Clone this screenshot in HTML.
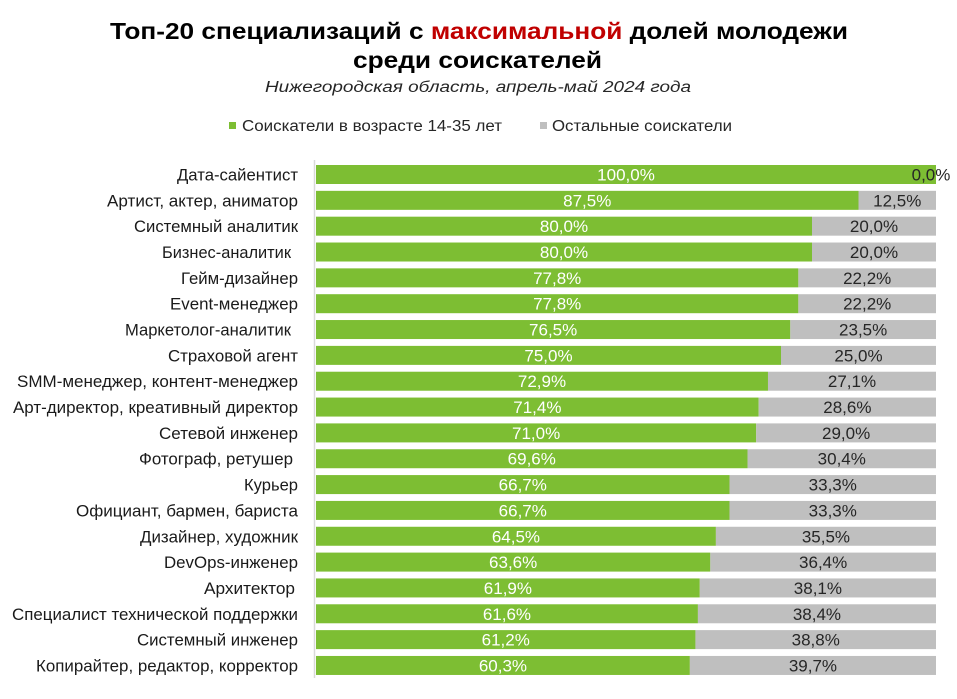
<!DOCTYPE html>
<html>
<head>
<meta charset="utf-8">
<style>
html,body{margin:0;padding:0;background:#fff;}
svg{display:block;}
text{font-family:"Liberation Sans",Arial,sans-serif;}
</style>
</head>
<body>
<svg width="957" height="699" viewBox="0 0 957 699" xmlns="http://www.w3.org/2000/svg">
<rect x="0" y="0" width="957" height="699" fill="#fff"/>
<!-- Title -->
<text x="110" y="39" font-size="23" font-weight="bold" fill="#000" textLength="738" lengthAdjust="spacingAndGlyphs">Топ-20 специализаций с <tspan fill="#C00000">максимальной</tspan> долей молодежи</text>
<text x="353" y="68" font-size="23" font-weight="bold" fill="#000" textLength="249" lengthAdjust="spacingAndGlyphs">среди соискателей</text>
<text x="265" y="92" font-size="15.5" font-style="italic" fill="#262626" textLength="426" lengthAdjust="spacingAndGlyphs">Нижегородская область, апрель-май 2024 года</text>
<!-- Legend -->
<rect x="229" y="122" width="7" height="7" fill="#7DBE33"/>
<text x="242" y="131" font-size="15.5" fill="#262626" textLength="260" lengthAdjust="spacingAndGlyphs">Соискатели в возрасте 14-35 лет</text>
<rect x="540" y="122" width="7" height="7" fill="#BFBFBF"/>
<text x="552" y="131" font-size="15.5" fill="#262626" textLength="180" lengthAdjust="spacingAndGlyphs">Остальные соискатели</text>
<!-- Axis line -->
<line x1="314.5" y1="160" x2="314.5" y2="678" stroke="#D9D9D9" stroke-width="1.5"/>
<g id="rows"></g>
</svg>
<script>
(function(){
var rows=[
["Дата-сайентист",100.0,177,298],
["Артист, актер, аниматор",87.5,107,298],
["Системный аналитик",80.0,134,298],
["Бизнес-аналитик",80.0,162,291],
["Гейм-дизайнер",77.8,181,298],
["Event-менеджер",77.8,170,298],
["Маркетолог-аналитик",76.5,125,291],
["Страховой агент",75.0,168,298],
["SMM-менеджер, контент-менеджер",72.9,17,298],
["Арт-директор, креативный директор",71.4,13,298],
["Сетевой инженер",71.0,159,298],
["Фотограф, ретушер",69.6,139,293],
["Курьер",66.7,244,298],
["Официант, бармен, бариста",66.7,76,298],
["Дизайнер, художник",64.5,140,298],
["DevOps-инженер",63.6,164,298],
["Архитектор",61.9,204,295],
["Специалист технической поддержки",61.6,12,298],
["Системный инженер",61.2,137,298],
["Копирайтер, редактор, корректор",60.3,36,298]
];
var NS="http://www.w3.org/2000/svg";
var g=document.getElementById("rows");
var x0=316,W=620,h=19;
function el(n,a,t){var e=document.createElementNS(NS,n);for(var k in a)e.setAttribute(k,a[k]);if(t!==undefined)e.textContent=t;g.appendChild(e);return e;}
function fmt(v){return v.toFixed(1).replace(".",",")+"%";}
rows.forEach(function(r,i){
  var top=165+i*25.84, cy=top+h/2, base=cy+6;
  var gw=r[1]/100*W, other=100-r[1];
  el("rect",{x:x0,y:top.toFixed(2),width:gw.toFixed(2),height:h,fill:"#7DBE33"});
  if(other>0) el("rect",{x:(x0+gw).toFixed(2),y:top.toFixed(2),width:(W-gw).toFixed(2),height:h,fill:"#BFBFBF"});
  el("text",{x:r[2],y:base.toFixed(2),"font-size":"16.8",fill:"#1a1a1a",textLength:(r[3]-r[2]),lengthAdjust:"spacingAndGlyphs"},r[0]);
  el("text",{x:(x0+gw/2).toFixed(2),y:base.toFixed(2),"font-size":"17",fill:"#fff","text-anchor":"middle"},fmt(r[1]));
  var gx = other>0 ? x0+gw+(W-gw)/2 : 931;
  el("text",{x:gx.toFixed(2),y:base.toFixed(2),"font-size":"17",fill:"#262626","text-anchor":"middle"},fmt(other));
});
})();
</script>
</body>
</html>
